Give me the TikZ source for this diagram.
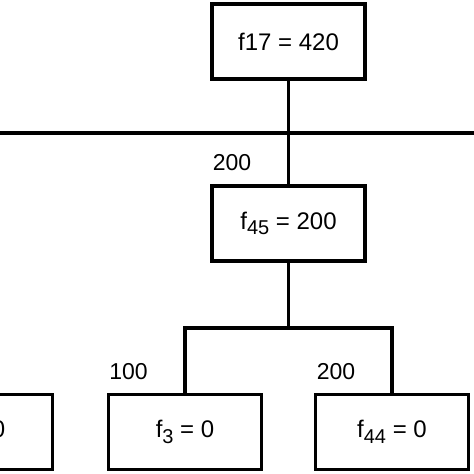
\documentclass[tikz,border=0pt]{standalone}
\usepackage{fontspec}
\setmainfont{Liberation Sans}
\newcommand{\subn}[1]{\raisebox{-5.5pt}{\fontsize{20}{20}\selectfont #1}}
\begin{document}
\begin{tikzpicture}[x=1pt,y=-1pt,
  fbox/.style={draw, line width=3.6pt, minimum width=153pt, minimum height=75pt, inner sep=0pt, font=\fontsize{24}{24}\selectfont, fill=white},
  conn/.style={line width=3.2pt},
  lbl/.style={font=\fontsize{23}{23}\selectfont, inner sep=0pt}]
\path[use as bounding box] (0,0) rectangle (474,474);
\clip (0,0) rectangle (474,474);
\coordinate (hl) at (0,133);
\coordinate (hr) at (474,133);
\coordinate (j) at (288.5,328);
\node[fbox] (top) at (288.5,41.5) {f17 = 420};
\node[fbox] (mid) at (288.5,223.5) {f\subn{45} = 200};
\node[fbox] (b1) at (-24,432) {\phantom{f\subn{3} = }0};
\node[fbox] (b2) at (185,432) {f\subn{3} = 0};
\node[fbox] (b3) at (392,432) {f\subn{44} = 0};
\draw[conn] (hl) -- (hr);
\draw[conn] (top.south) -- (mid.north);
\draw[conn] (mid.south) -- (j);
\draw[conn] (b2.north) |- (j) -| (b3.north);
\node[lbl] (l1) at (232,163) {200};
\node[lbl] (l2) at (128.5,372) {100};
\node[lbl] (l3) at (336,372) {200};
\end{tikzpicture}
\end{document}
